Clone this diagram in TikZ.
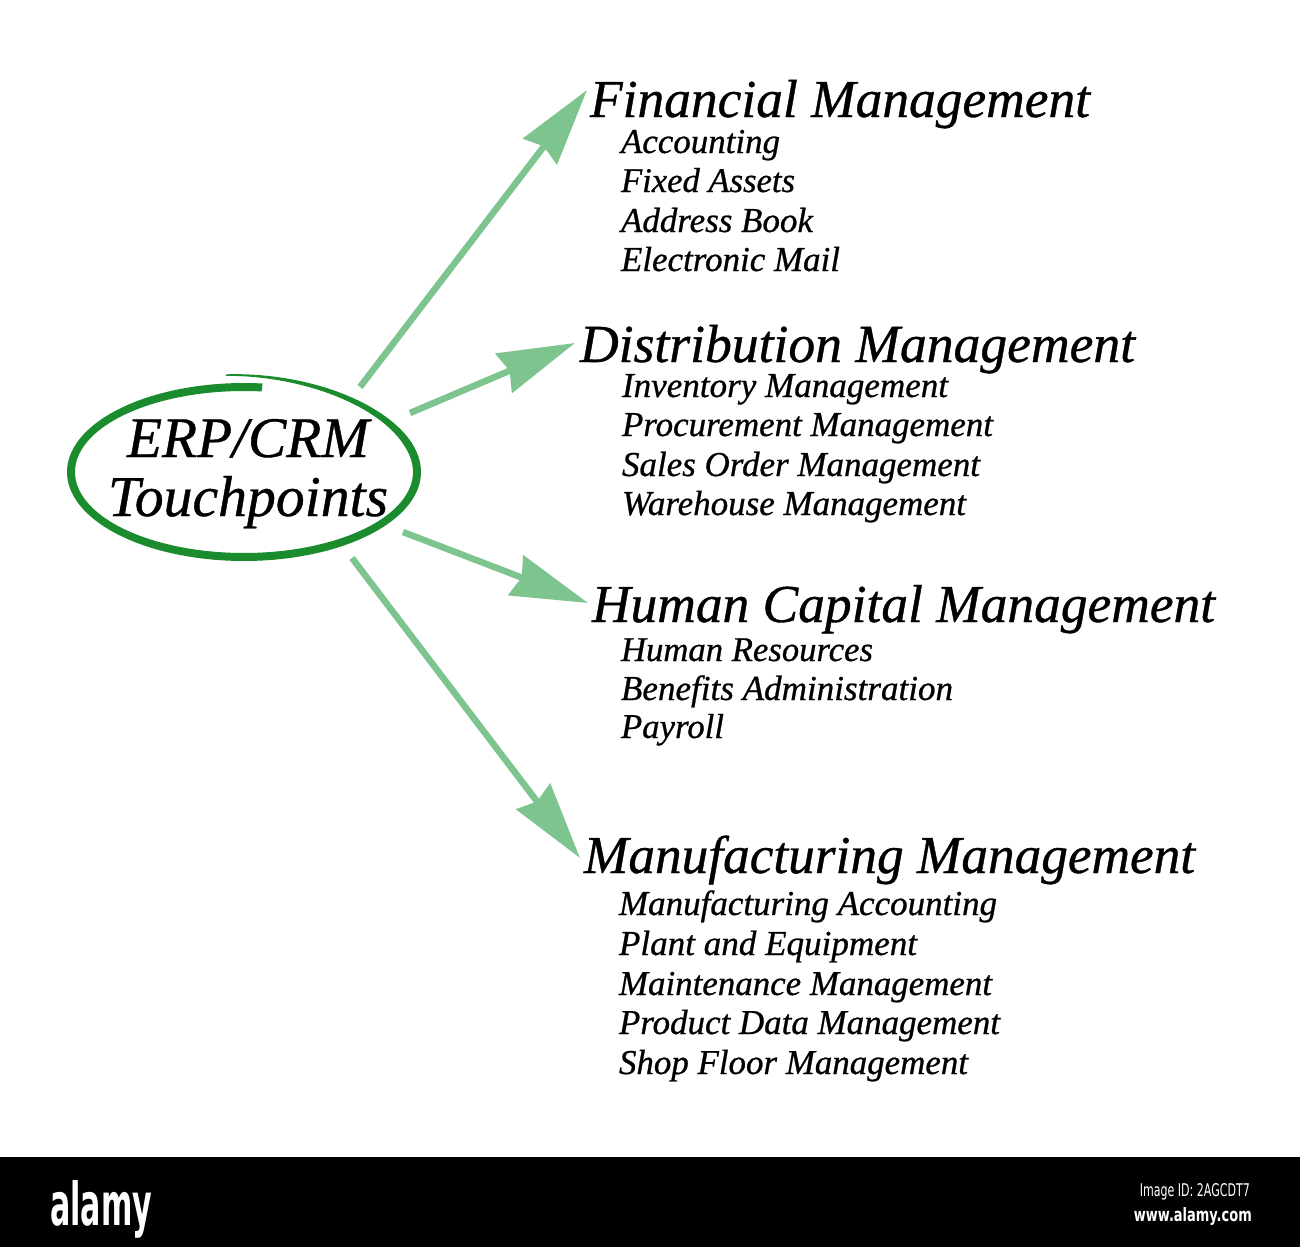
\documentclass[tikz,border=0pt]{standalone}
\usepackage{graphicx}
\usepackage{fontspec}
\setmainfont{Liberation Serif}
\newfontface\heavyit{Liberation Serif Italic}[FakeBold=0.7]
\newfontfamily\wmfont{DejaVu Sans}
\usetikzlibrary{arrows.meta,shapes.geometric}
\definecolor{arrowgreen}{HTML}{7DC48F}
\definecolor{ringgreen}{HTML}{1B8C2D}
\newcommand{\fitw}[2]{\resizebox{#1pt}{!}{\fontsize{40}{48}\heavyit #2}}
\newcommand{\fitwh}[3]{\resizebox{#1pt}{#2pt}{#3}}
\begin{document}
\begin{tikzpicture}[x=1pt,y=-1pt,
  txt/.style={anchor=base west, inner sep=0pt, outer sep=0pt, text=black},
  arr/.style={draw=arrowgreen, line width=6.5pt, -{Stealth[length=77pt,width=42pt,inset=6pt,fill=arrowgreen]}},
  declare function={W(\a)=min(8,1.5+(\a+96)*0.085); RY(\a)=85+max(0,-\a)*0.13;}
]
\useasboundingbox (0,0) rectangle (1300,1247);
\fill[white] (0,0) rectangle (1300,1247);

% brush ellipse
\node[ellipse, minimum width=346pt, minimum height=170pt, inner sep=0pt] (erp) at (244,472) {};
\fill[ringgreen] plot[domain=-96:276, samples=220] ({244+(173+W(\x)/2)*cos(\x)}, {472+(RY(\x)+W(\x)/2)*sin(\x)})
  -- plot[domain=276:-96, samples=220] ({244+(173-W(\x)/2)*cos(\x)}, {472+(RY(\x)-W(\x)/2)*sin(\x)}) -- cycle;

\node[txt] (erp1) at (127,457) {\fitw{242}{ERP/CRM}};
\node[txt] (erp2) at (108,516) {\fitw{280}{Touchpoints}};

% headings and items
\node[txt] (fin) at (590,117) {\fitw{500}{Financial Management}};
\node[txt] (fin1) at (621,153) {\fitw{159}{Accounting}};
\node[txt] (fin2) at (621,192) {\fitw{174}{Fixed Assets}};
\node[txt] (fin3) at (621,232) {\fitw{192}{Address Book}};
\node[txt] (fin4) at (621,271) {\fitw{219}{Electronic Mail}};

\node[txt] (dist) at (580,362) {\fitw{555}{Distribution Management}};
\node[txt] (dist1) at (622,397) {\fitw{326}{Inventory Management}};
\node[txt] (dist2) at (622,436) {\fitw{371}{Procurement Management}};
\node[txt] (dist3) at (622,476) {\fitw{358}{Sales Order Management}};
\node[txt] (dist4) at (622,515) {\fitw{344}{Warehouse Management}};

\node[txt] (hum) at (592,622) {\fitw{623}{Human Capital Management}};
\node[txt] (hum1) at (621,661) {\fitw{252}{Human Resources}};
\node[txt] (hum2) at (621,700) {\fitw{332}{Benefits Administration}};
\node[txt] (hum3) at (621,738) {\fitw{103}{Payroll}};

\node[txt] (man) at (584,873) {\fitw{611}{Manufacturing Management}};
\node[txt] (man1) at (619,915) {\fitw{378}{Manufacturing Accounting}};
\node[txt] (man2) at (619,955) {\fitw{298}{Plant and Equipment}};
\node[txt] (man3) at (619,995) {\fitw{373}{Maintenance Management}};
\node[txt] (man4) at (619,1034) {\fitw{381}{Product Data Management}};
\node[txt] (man5) at (619,1074) {\fitw{349}{Shop Floor Management}};

% arrows
\coordinate (s1) at (360,387); \coordinate (t1) at (587,90);
\coordinate (s2) at (410,413); \coordinate (t2) at (575,343);
\coordinate (s3) at (403,532); \coordinate (t3) at (588,603);
\coordinate (s4) at (352,558); \coordinate (t4) at (580,858);
\draw[arr] (s1) -- (t1);
\draw[arr] (s2) -- (t2);
\draw[arr] (s3) -- (t3);
\draw[arr] (s4) -- (t4);

% watermark bar
\fill[black] (0,1157) rectangle (1300,1247);
\node[anchor=base west, inner sep=0pt, text=white] (logo) at (50,1225) {\fitwh{102}{45}{\wmfont\bfseries alamy}};
\node[anchor=base east, inner sep=0pt, text=white] (imgid) at (1250,1196) {\fitwh{110}{13}{\wmfont Image ID: 2AGCDT7}};
\node[anchor=base east, inner sep=0pt, text=white] (www) at (1252,1221) {\fitwh{118}{14}{\wmfont\bfseries www.alamy.com}};
\end{tikzpicture}
\end{document}
